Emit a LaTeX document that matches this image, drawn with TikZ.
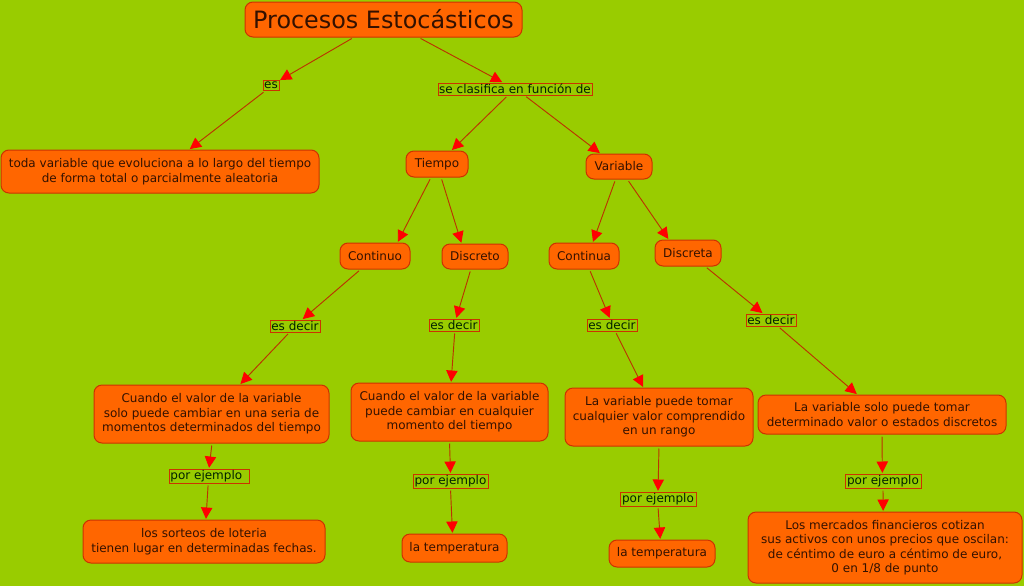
\documentclass[tikz,border=0pt]{standalone}
\usepackage{fontspec}
\setmainfont{DejaVu Sans}
\usetikzlibrary{arrows.meta}
\definecolor{bgc}{HTML}{99CC00}
\definecolor{nfill}{HTML}{FF6600}
\definecolor{nline}{HTML}{CC3300}
\definecolor{ntext}{HTML}{331100}
\definecolor{ltext}{HTML}{002200}
\definecolor{cline}{HTML}{BB3300}
\definecolor{arr}{HTML}{FF0000}
\tikzset{
  sz/.style 2 args={minimum width=#1*0.75pt, minimum height=#2*0.75pt},
  concept/.style={rectangle, rounded corners=6pt, draw=nline, line width=0.75pt,
    fill=nfill, text=ntext, inner sep=0pt, align=center,
    font=\fontsize{9}{10.8}\selectfont},
  linkbox/.style={rectangle, draw=nline, line width=0.75pt, fill=bgc, text=ltext,
    inner sep=0pt, font=\fontsize{9}{10}\selectfont},
  conn/.style={draw=cline, line width=0.7pt, shorten <=1.5pt, shorten >=0.5pt,
    -{Triangle[length=8.5pt,width=8.5pt,fill=arr,color=arr]}},
}
\begin{document}
\begin{tikzpicture}[x=0.75pt,y=-0.75pt]
\fill[bgc] (0,0) rectangle (1024,586);
\useasboundingbox (0,0) rectangle (1024,586);

\node[concept, sz={277}{35}, font=\fontsize{17.9}{20}\selectfont] (title) at (383.5,19.5) {Procesos Estocásticos};
\node[linkbox, sz={16}{10}] (es) at (271,85.5) {es};
\node[linkbox, sz={154}{12}] (se) at (515,89) {se clasifica en función de};
\node[concept, sz={318}{43}] (toda) at (160,171.5) {toda variable que evoluciona a lo largo del tiempo\\de forma total o parcialmente aleatoria};
\node[concept, sz={62}{26}] (tiempo) at (437,164) {Tiempo};
\node[concept, sz={66}{25}] (variable) at (619,166.5) {Variable};
\node[concept, sz={70}{26}] (continuo) at (375,256) {Continuo};
\node[concept, sz={66}{25}] (discreto) at (475,256.5) {Discreto};
\node[concept, sz={70}{26}] (continua) at (584,256) {Continua};
\node[concept, sz={66}{26}] (discreta) at (688,253) {Discreta};
\node[linkbox, sz={50}{12}] (ed1) at (295,326) {es decir};
\node[linkbox, sz={50}{12}] (ed2) at (454,325) {es decir};
\node[linkbox, sz={50}{12}] (ed3) at (612,325) {es decir};
\node[linkbox, sz={50}{12}] (ed4) at (771,320) {es decir};
\node[concept, sz={235}{58}] (cuando1) at (211.5,414) {Cuando el valor de la variable\\solo puede cambiar en una seria de\\momentos determinados del tiempo};
\node[concept, sz={197}{58}] (cuando2) at (449.5,412) {Cuando el valor de la variable\\puede cambiar en cualquier\\momento del tiempo};
\node[concept, sz={188}{58}] (lvp) at (659,417) {La variable puede tomar\\cualquier valor comprendido\\en un rango};
\node[concept, sz={248}{39}] (lvs) at (882,414.5) {La variable solo puede tomar\\determinado valor o estados discretos};
\node[linkbox, sz={80}{14}] (pe1) at (209,476) {por ejemplo\hspace*{4pt}};
\node[linkbox, sz={75}{14}] (pe2) at (450.5,481) {por ejemplo};
\node[linkbox, sz={76}{14}] (pe3) at (658,499) {por ejemplo};
\node[linkbox, sz={76}{14}] (pe4) at (883,481) {por ejemplo};
\node[concept, sz={242}{43}] (sorteos) at (204,541.5) {los sorteos de loteria\\tienen lugar en determinadas fechas.};
\node[concept, sz={105}{28}] (temp2) at (454.5,548) {la temperatura};
\node[concept, sz={106}{27}] (temp3) at (662,553.5) {la temperatura};
\node[concept, sz={274}{71}] (merc) at (885,547.5) {Los mercados financieros cotizan\\sus activos con unos precios que oscilan:\\de céntimo de euro a céntimo de euro,\\0 en 1/8 de punto};

\draw[conn] (title.211) -- (es.31);
\draw[conn] (es.223) -- (toda.37);
\draw[conn] (title.333) -- (se.152);
\draw[conn] (se.222) -- (tiempo.43);
\draw[conn] (se.326) -- (variable.145);
\draw[conn] (tiempo.246) -- (continuo.31);
\draw[conn] (tiempo.287) -- (discreto.136);
\draw[conn] (continuo.223) -- (ed1.42);
\draw[conn] (discreto.252) -- (ed2.72);
\draw[conn] (continua.292) -- (ed3.108);
\draw[conn] (variable.255) -- (continua.57);
\draw[conn] (variable.303) -- (discreta.145);
\draw[conn] (discreta.322) -- (ed4.141);
\draw[conn] (ed1.229) -- (cuando1.46);
\draw[conn] (ed2.277) -- (cuando2.87);
\draw[conn] (ed3.297) -- (lvp.118);
\draw[conn] (ed4.318) -- (lvs.141);
\draw[conn] (cuando1.271) -- (pe1.90);
\draw[conn] (pe1.264) -- (sorteos.85);
\draw[conn] (cuando2.270) -- (pe2.90);
\draw[conn] (pe2.270) -- (temp2.98);
\draw[conn] (lvp.270) -- (pe3.90);
\draw[conn] (pe3.270) -- (temp3.97);
\draw[conn] (lvs.270) -- (pe4.95);
\draw[conn] (pe4.270) -- (merc.93);
\end{tikzpicture}
\end{document}
